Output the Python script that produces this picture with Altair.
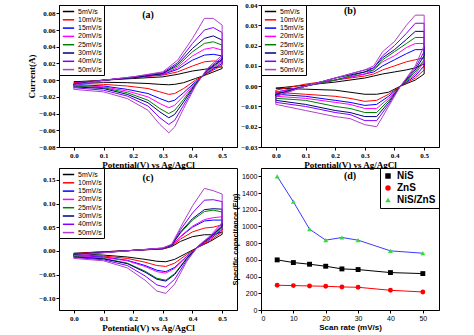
import altair as alt
import pandas as pd

RATES = ["5mV/s", "10mV/s", "15mV/s", "20mV/s", "25mV/s", "30mV/s", "40mV/s", "50mV/s"]
CV_COLORS = ["#000000", "#ff0000", "#0000ff", "#ff00ff", "#008000", "#000080", "#7f00ff", "#b040c8"]

# ---------------- panel (a) ----------------
A_E_FWD = [0.0, 0.1, 0.2, 0.3, 0.35, 0.4, 0.44, 0.47, 0.5]
A_E_REV = [0.5, 0.45, 0.41, 0.37, 0.34, 0.32, 0.29, 0.25, 0.18, 0.1, 0.0]
A_I_FWD = {
    "5mV/s":  [-0.002, 0.0, 0.002, 0.004, 0.007, 0.011, 0.013, 0.015, 0.016],
    "10mV/s": [-0.003, 0.0, 0.003, 0.006, 0.010, 0.017, 0.022, 0.023, 0.022],
    "15mV/s": [-0.004, 0.0, 0.003, 0.007, 0.013, 0.024, 0.030, 0.031, 0.029],
    "20mV/s": [-0.004, 0.0, 0.003, 0.007, 0.015, 0.029, 0.037, 0.039, 0.036],
    "25mV/s": [-0.005, 0.0, 0.003, 0.008, 0.017, 0.034, 0.044, 0.046, 0.042],
    "30mV/s": [-0.005, 0.0, 0.003, 0.008, 0.019, 0.038, 0.050, 0.053, 0.048],
    "40mV/s": [-0.006, 0.0, 0.004, 0.009, 0.021, 0.044, 0.060, 0.063, 0.057],
    "50mV/s": [-0.006, 0.0, 0.004, 0.010, 0.024, 0.050, 0.074, 0.074, 0.066],
}
A_I_REV = {
    "5mV/s":  [0.014, 0.007, 0.002, -0.003, -0.005, -0.0055, -0.005, -0.004, -0.003, -0.0025, -0.002],
    "10mV/s": [0.018, 0.008, 0.0, -0.010, -0.016, -0.017, -0.014, -0.010, -0.007, -0.005, -0.003],
    "15mV/s": [0.020, 0.009, -0.002, -0.015, -0.024, -0.026, -0.022, -0.016, -0.011, -0.007, -0.005],
    "20mV/s": [0.022, 0.010, -0.003, -0.019, -0.030, -0.033, -0.028, -0.020, -0.013, -0.008, -0.006],
    "25mV/s": [0.024, 0.011, -0.004, -0.023, -0.036, -0.040, -0.034, -0.024, -0.015, -0.009, -0.007],
    "30mV/s": [0.025, 0.012, -0.005, -0.026, -0.041, -0.045, -0.038, -0.027, -0.017, -0.010, -0.008],
    "40mV/s": [0.027, 0.013, -0.006, -0.030, -0.048, -0.053, -0.045, -0.031, -0.019, -0.012, -0.009],
    "50mV/s": [0.030, 0.014, -0.007, -0.034, -0.056, -0.063, -0.053, -0.036, -0.022, -0.014, -0.011],
}

# ---------------- panel (b) ----------------
B_E_FWD = [0.0, 0.1, 0.2, 0.3, 0.33, 0.36, 0.4, 0.44, 0.47, 0.5]
B_E_REV = [0.5, 0.47, 0.42, 0.38, 0.34, 0.3, 0.25, 0.2, 0.1, 0.0]
B_I_FWD = {
    "5mV/s":  [-0.001, 0.0005, 0.002, 0.004, 0.005, 0.006, 0.007, 0.008, 0.009, 0.011],
    "10mV/s": [-0.002, 0.001, 0.003, 0.005, 0.006, 0.008, 0.010, 0.012, 0.013, 0.014],
    "15mV/s": [-0.003, 0.0, 0.003, 0.006, 0.007, 0.010, 0.013, 0.016, 0.018, 0.018],
    "20mV/s": [-0.003, 0.0, 0.003, 0.006, 0.008, 0.012, 0.015, 0.019, 0.021, 0.021],
    "25mV/s": [-0.004, 0.0, 0.003, 0.007, 0.008, 0.013, 0.017, 0.021, 0.024, 0.024],
    "30mV/s": [-0.004, 0.0, 0.004, 0.007, 0.009, 0.014, 0.018, 0.023, 0.027, 0.027],
    "40mV/s": [-0.005, 0.0, 0.004, 0.008, 0.009, 0.015, 0.020, 0.026, 0.031, 0.031],
    "50mV/s": [-0.005, 0.0, 0.004, 0.008, 0.010, 0.017, 0.022, 0.030, 0.035, 0.035],
}
B_I_REV = {
    "5mV/s":  [0.006, 0.003, 0.0, -0.003, -0.004, -0.004, -0.003, -0.002, -0.0015, -0.001],
    "10mV/s": [0.008, 0.004, 0.0, -0.004, -0.007, -0.0075, -0.006, -0.005, -0.004, -0.003],
    "15mV/s": [0.010, 0.005, 0.0, -0.005, -0.009, -0.0095, -0.008, -0.007, -0.005, -0.004],
    "20mV/s": [0.012, 0.006, 0.0, -0.006, -0.011, -0.011, -0.009, -0.008, -0.006, -0.005],
    "25mV/s": [0.013, 0.007, 0.0, -0.007, -0.013, -0.013, -0.011, -0.010, -0.007, -0.006],
    "30mV/s": [0.015, 0.008, 0.0, -0.008, -0.015, -0.015, -0.013, -0.012, -0.009, -0.007],
    "40mV/s": [0.017, 0.009, 0.0, -0.009, -0.017, -0.017, -0.014, -0.013, -0.010, -0.008],
    "50mV/s": [0.020, 0.010, 0.0, -0.010, -0.020, -0.019, -0.016, -0.015, -0.012, -0.009],
}

# ---------------- panel (c) ----------------
C_E_FWD = [0.0, 0.1, 0.2, 0.3, 0.33, 0.36, 0.4, 0.44, 0.47, 0.5]
C_E_REV = [0.5, 0.46, 0.42, 0.38, 0.34, 0.31, 0.28, 0.24, 0.18, 0.1, 0.0]
C_I_FWD = {
    "5mV/s":  [-0.005, -0.002, 0.001, 0.004, 0.009, 0.020, 0.030, 0.034, 0.034, 0.040],
    "10mV/s": [-0.006, -0.002, 0.001, 0.004, 0.010, 0.025, 0.040, 0.048, 0.050, 0.055],
    "15mV/s": [-0.007, -0.003, 0.001, 0.005, 0.011, 0.030, 0.050, 0.063, 0.065, 0.065],
    "20mV/s": [-0.008, -0.003, 0.001, 0.005, 0.011, 0.031, 0.052, 0.066, 0.070, 0.072],
    "25mV/s": [-0.008, -0.003, 0.001, 0.005, 0.012, 0.038, 0.065, 0.083, 0.086, 0.082],
    "30mV/s": [-0.009, -0.003, 0.001, 0.005, 0.012, 0.040, 0.068, 0.087, 0.089, 0.088],
    "40mV/s": [-0.010, -0.004, 0.001, 0.006, 0.013, 0.045, 0.080, 0.107, 0.108, 0.104],
    "50mV/s": [-0.010, -0.004, 0.001, 0.006, 0.014, 0.050, 0.095, 0.132, 0.127, 0.120],
}
C_I_REV = {
    "5mV/s":  [0.035, 0.020, 0.008, -0.005, -0.018, -0.023, -0.022, -0.018, -0.013, -0.009, -0.006],
    "10mV/s": [0.040, 0.022, 0.008, -0.008, -0.026, -0.033, -0.031, -0.024, -0.016, -0.011, -0.008],
    "15mV/s": [0.045, 0.025, 0.009, -0.012, -0.035, -0.044, -0.041, -0.031, -0.020, -0.013, -0.010],
    "20mV/s": [0.047, 0.026, 0.009, -0.013, -0.037, -0.047, -0.044, -0.033, -0.021, -0.014, -0.011],
    "25mV/s": [0.050, 0.028, 0.010, -0.016, -0.048, -0.062, -0.058, -0.043, -0.026, -0.016, -0.012],
    "30mV/s": [0.052, 0.029, 0.010, -0.017, -0.050, -0.064, -0.060, -0.045, -0.027, -0.017, -0.013],
    "40mV/s": [0.056, 0.030, 0.010, -0.020, -0.060, -0.077, -0.072, -0.053, -0.031, -0.019, -0.014],
    "50mV/s": [0.060, 0.032, 0.011, -0.023, -0.070, -0.090, -0.085, -0.062, -0.036, -0.021, -0.016],
}

# ---------------- panel (d) ----------------
SERIES = ["NiS", "ZnS", "NiS/ZnS"]
SCAN = [5, 10, 15, 20, 25, 30, 40, 50]
NIS = [600, 568, 548, 524, 492, 484, 448, 436]
ZNS = [296, 292, 288, 284, 276, 272, 236, 216]
NISZNS = [1600, 1296, 968, 836, 868, 836, 708, 680]
LINE_COLORS = ["#000000", "#ff0000", "#3a3aff"]
MARK_COLORS = ["#000000", "#ff0000", "#33dd33"]
MARK_SHAPES = ["square", "circle", "triangle-up"]

W, H = 178, 142
SERIF = "Liberation Serif"
SANS = "Liberation Sans"


def cv_frame(e_fwd, e_rev, i_fwd, i_rev):
    rows = []
    for r in RATES:
        pts = list(zip(e_fwd, i_fwd[r])) + list(zip(e_rev, i_rev[r]))
        pts.append(pts[0])
        for k, (e, i) in enumerate(pts):
            rows.append({"rate": r, "E": e, "I": i, "k": k})
    return pd.DataFrame(rows)


def cv_chart(df, ydomain, yticks, label, ytitle=None):
    yaxis = dict(values=yticks, format=".2f", labelFont=SERIF, labelFontWeight="bold",
                 labelFontSize=7, titleFont=SERIF, titleFontWeight="bold", titleFontSize=9)
    yaxis["title"] = ytitle if ytitle else None
    return alt.Chart(df).mark_line(strokeWidth=1, clip=True).encode(
        x=alt.X("E:Q", scale=alt.Scale(domain=[-0.05, 0.55], nice=False),
                axis=alt.Axis(values=[0.0, 0.1, 0.2, 0.3, 0.4, 0.5], format=".1f",
                              title="Potential(V) vs Ag/AgCl", labelFont=SERIF,
                              labelFontWeight="bold", labelFontSize=7, titleFont=SERIF,
                              titleFontWeight="bold", titleFontSize=9)),
        y=alt.Y("I:Q", scale=alt.Scale(domain=ydomain, nice=False, zero=False),
                axis=alt.Axis(**yaxis)),
        color=alt.Color("rate:N", scale=alt.Scale(domain=RATES, range=CV_COLORS),
                        legend=alt.Legend(title=None, orient="top-left", offset=0,
                                          strokeColor="black", fillColor="white",
                                          padding=2, symbolType="M-1.6,0L1.6,0",
                                          symbolSize=50, symbolOffset=3,
                                          symbolStrokeWidth=1.5, labelFont=SANS,
                                          labelFontSize=7, rowPadding=0.3,
                                          labelOffset=5, cornerRadius=0)),
        order="k:Q",
    ).properties(width=W, height=H,
                 title=alt.TitleParams(label, anchor="middle", offset=-15, font=SERIF,
                                       fontWeight="bold", fontSize=10))


chart_a = cv_chart(cv_frame(A_E_FWD, A_E_REV, A_I_FWD, A_I_REV), [-0.08, 0.09],
                   [-0.08, -0.06, -0.04, -0.02, 0.0, 0.02, 0.04, 0.06, 0.08], "(a)", "Current(A)")
chart_b = cv_chart(cv_frame(B_E_FWD, B_E_REV, B_I_FWD, B_I_REV), [-0.03, 0.04],
                   [-0.03, -0.02, -0.01, 0.0, 0.01, 0.02, 0.03, 0.04], "(b)")
chart_c = cv_chart(cv_frame(C_E_FWD, C_E_REV, C_I_FWD, C_I_REV), [-0.125, 0.175],
                   [-0.10, -0.05, 0.0, 0.05, 0.10, 0.15], "(c)")

rows = []
for s, vals in zip(SERIES, [NIS, ZNS, NISZNS]):
    for x, v in zip(SCAN, vals):
        rows.append({"series": s, "rate": x, "cap": v})
df_d = pd.DataFrame(rows)

xd = alt.X("rate:Q", scale=alt.Scale(domain=[0, 55], nice=False),
           axis=alt.Axis(values=[0, 10, 20, 30, 40, 50], title="Scan rate (mV/s)",
                         labelFont=SANS, labelFontSize=7, titleFont=SANS,
                         titleFontWeight="bold", titleFontSize=8))
yd = alt.Y("cap:Q", scale=alt.Scale(domain=[0, 1700], nice=False),
           axis=alt.Axis(values=[0, 200, 400, 600, 800, 1000, 1200, 1400, 1600], format="d",
                         title="Specific capacitance (F/g)", labelFont=SANS,
                         labelFontSize=7, titleFont=SANS, titleFontWeight="bold",
                         titleFontSize=7.5))

# one line layer per series, each with its own static stroke colour
d_layers = []
for s, c in zip(SERIES, LINE_COLORS):
    d_layers.append(
        alt.Chart(df_d).transform_filter(alt.datum.series == s)
        .mark_line(strokeWidth=1, color=c).encode(x=xd, y=yd)
    )
d_points = alt.Chart(df_d).mark_point(filled=True, size=24, opacity=1).encode(
    x=xd, y=yd,
    color=alt.Color("series:N", scale=alt.Scale(domain=SERIES, range=MARK_COLORS),
                    legend=alt.Legend(title=None, orient="top-right", offset=0,
                                      strokeColor="black", fillColor="white", padding=3,
                                      symbolSize=30, labelFont=SANS, labelFontWeight="bold",
                                      labelFontSize=10, rowPadding=2, cornerRadius=0)),
    shape=alt.Shape("series:N", scale=alt.Scale(domain=SERIES, range=MARK_SHAPES)),
)
d_layers.append(d_points)
chart_d = alt.layer(*d_layers).properties(
    width=W, height=H,
    title=alt.TitleParams("(d)", anchor="middle", offset=-13, font=SERIF,
                          fontWeight="bold", fontSize=10))

chart = alt.concat(chart_a, chart_b, chart_c, chart_d, columns=2, bounds="flush",
                   spacing={"row": 21, "column": 24}).resolve_scale(
    color="independent", shape="independent"
).resolve_legend(
    color="independent", shape="independent"
).properties(
    padding={"left": 27, "top": 0, "right": 0, "bottom": 0},
    background="white"
).configure_view(stroke="black", strokeWidth=1).configure_axis(
    grid=False, tickColor="black", domainColor="black", labelColor="black",
    titleColor="black", tickSize=3, labelPadding=1, titlePadding=2
)

chart.save("out.html", embed_options={"renderer": "svg", "actions": False})
